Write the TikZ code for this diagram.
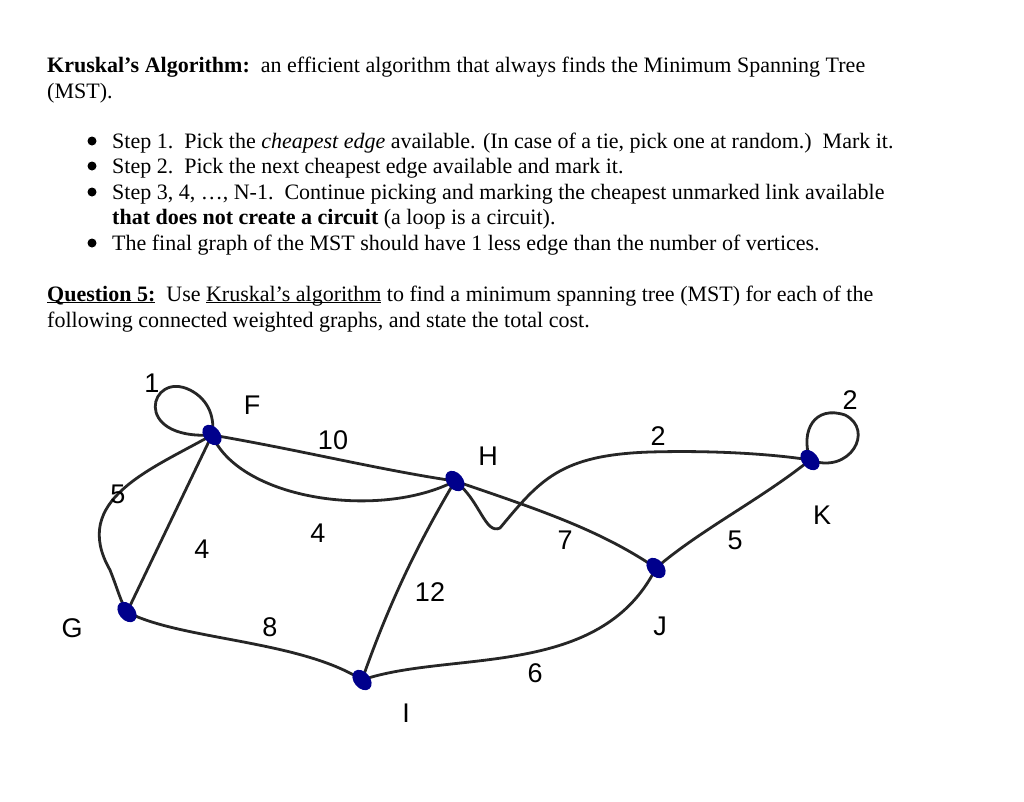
\documentclass[tikz,border=0pt]{standalone}
\usepackage{fontspec}
\setmainfont{Liberation Serif}
\newfontfamily\hand{Liberation Sans}
\newcommand{\myul}[1]{\underline{\smash{#1}}}
\tikzset{
 txt/.style={anchor=base west,inner sep=0,font=\fontsize{22}{26}\selectfont},
 vtx/.style={ellipse,fill=blue!55!black,minimum width=16pt,minimum height=23pt,inner sep=0,rotate=40},
 edge/.style={line width=2.8pt,black!85},
 lab/.style={font=\hand\fontsize{27}{30}\selectfont}
}
\usetikzlibrary{shapes.geometric}
\begin{document}
\begin{tikzpicture}[x=1pt,y=-1pt]
\useasboundingbox (0,0) rectangle (1024,801);
\fill[white] (0,0) rectangle (1024,801);
\node[txt] (t1) at (47,72) {\textbf{Kruskal’s Algorithm:}\ \ an efficient algorithm that always finds the Minimum Spanning Tree};
\node[txt] (t2) at (47,98) {(MST).};
\foreach \y/\s [count=\i] in {148/{Step 1.\ \ Pick the \textit{cheapest edge} available. (In case of a tie, pick one at random.)\ \ Mark it.},173/{Step 2.\ \ Pick the next cheapest edge available and mark it.},199/{Step 3, 4, …, N-1.\ \ Continue picking and marking the cheapest unmarked link available},250/{The final graph of the MST should have 1 less edge than the number of vertices.}}{
 \node[txt] (b\i) at (112,\y) {\s};
 \fill (92,\y-7) circle (4.5pt);
}
\node[txt] (b3b) at (112,224) {\textbf{that does not create a circuit} (a loop is a circuit).};
\node[txt] (q1) at (47,301) {\textbf{\myul{Question 5:}}\ \ Use \myul{Kruskal’s algorithm} to find a minimum spanning tree (MST) for each of the};
\node[txt] (q2) at (47,327) {following connected weighted graphs, and state the total cost.};

\coordinate (F) at (212,435);
\coordinate (H) at (455,481);
\coordinate (K) at (810,460);
\coordinate (J) at (656,568);
\coordinate (G) at (127,612);
\coordinate (I) at (362,680);
\draw[edge] (F) .. controls (130,440) and (150,370) .. (190,390) .. controls (210,400) and (215,420) .. (F);
\draw[edge] (F) .. controls (300,450) and (380,470) .. (H);
\draw[edge] (F) .. controls (240,500) and (380,520) .. (H);
\draw[edge] (F) -- (G);
\draw[edge] (F) .. controls (150,470) and (70,500) .. (110,570) .. controls (118,590) and (120,600) .. (G);
\draw[edge] (G) .. controls (180,640) and (300,640) .. (I);
\draw[edge] (I) .. controls (390,600) and (420,540) .. (H);
\draw[edge] (H) .. controls (540,510) and (600,530) .. (J);
\draw[edge] (H) .. controls (480,500) and (485,535) .. (500,528) .. controls (540,480) and (560,455) .. (650,452) .. controls (720,450) and (780,455) .. (K);
\draw[edge] (J) .. controls (700,530) and (760,500) .. (K);
\draw[edge] (I) .. controls (450,650) and (600,680) .. (J);
\draw[edge] (K) .. controls (850,475) and (875,430) .. (845,415) .. controls (815,405) and (800,430) .. (K);
\foreach \v in {F,H,K,J,G,I} \node[vtx] (n\v) at (\v) {};
\node[lab] (l1) at (152,383) {1};
\node[lab] (l10) at (333,440) {10};
\node[lab] (l4a) at (318,533) {4};
\node[lab] (l4b) at (202,549) {4};
\node[lab] (l5a) at (118,494) {5};
\node[lab] (l8) at (270,627) {8};
\node[lab] (l12) at (430,592) {12};
\node[lab] (l7) at (565,540) {7};
\node[lab] (l2a) at (658,436) {2};
\node[lab] (l5b) at (735,540) {5};
\node[lab] (l6) at (535,673) {6};
\node[lab] (l2b) at (850,400) {2};
\node[lab] (vF) at (252,405) {F};
\node[lab] (vH) at (488,456) {H};
\node[lab] (vK) at (822,515) {K};
\node[lab] (vJ) at (660,626) {J};
\node[lab] (vG) at (72,628) {G};
\node[lab] (vI) at (406,713) {I};
\end{tikzpicture}
\end{document}
